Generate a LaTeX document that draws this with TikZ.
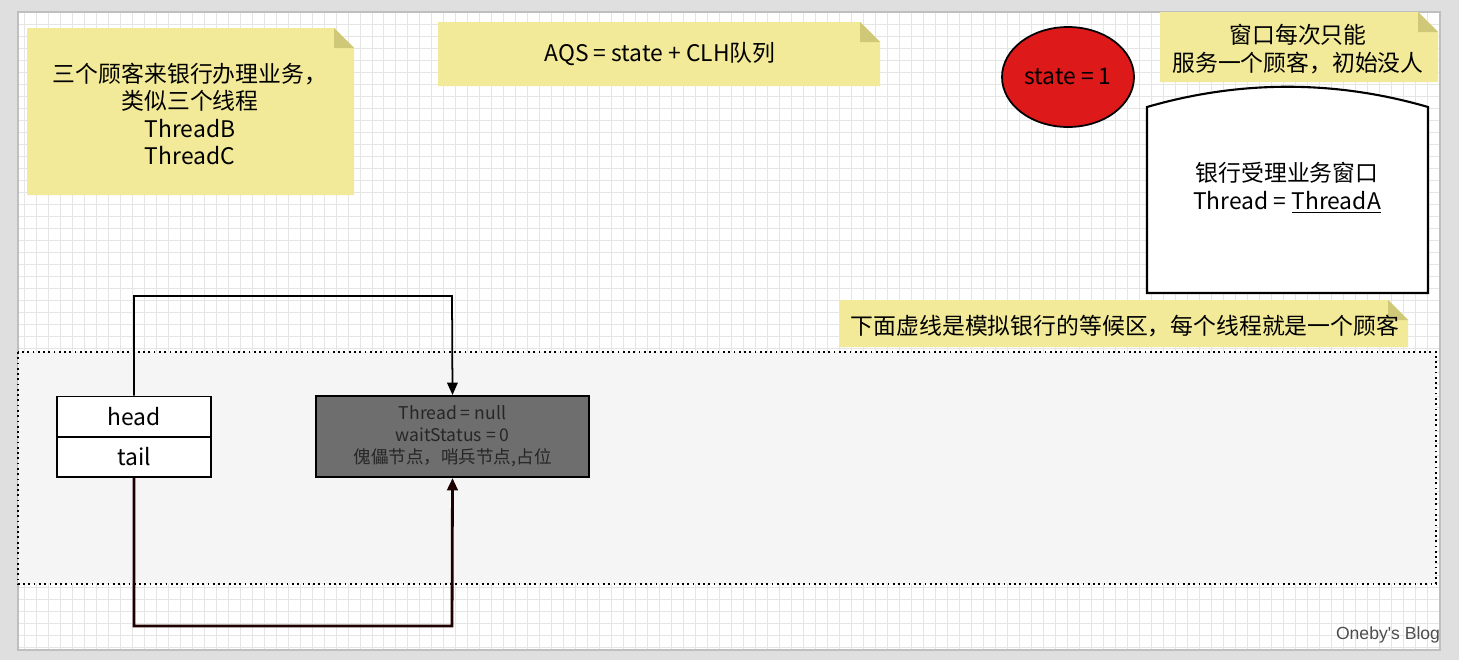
\documentclass[tikz,border=0pt]{standalone}
\usepackage{fontspec}
\setmainfont{Noto Sans CJK SC}
\newfontfamily\wmfont{Liberation Sans}
\usetikzlibrary{arrows.meta}
\definecolor{note}{HTML}{F2EA98}
\definecolor{fold}{HTML}{CFC878}
\begin{document}
\begin{tikzpicture}[x=0.02cm,y=-0.02cm,
  note/.style={fill=note,draw=none},
  txt/.style={font=\fontsize{13}{16}\selectfont,align=center,inner sep=0},
  box/.style={draw=black,line width=1pt,fill=white,minimum width=154*0.02cm,minimum height=40*0.02cm,inner sep=0,font=\fontsize{13}{14}\selectfont}]
\useasboundingbox (0,0) rectangle (1459,660);
\fill[gray!25] (0,0) rectangle (1459,660);
\fill[white] (18,12) rectangle (1440,650);
\begin{scope}
\clip (18,12) rectangle (1440,650);
\draw[gray!20,line width=0.5pt,step=0.24cm] (0,0) grid (1459,660);
\end{scope}
\draw[gray!50,line width=1pt] (18,12) rectangle (1440,650);
% notes
\foreach \a/\b/\c/\d in {27/28/354/195,438/22/880/86,1160/12/1438/82,840/300/1408/347}{
  \fill[note] (\a,\b) -- (\c-20,\b) -- (\c,\b+20) -- (\c,\d) -- (\a,\d) -- cycle;
  \fill[fold] (\c-20,\b) -- (\c,\b+20) -- (\c-20,\b+20) -- cycle;}
\node[txt,font=\fontsize{13}{16}\selectfont] (n1) at (190,114) {三个顾客来银行办理业务，\\[-0.5pt]类似三个线程\\[-0.5pt]ThreadB\\[-0.5pt]ThreadC};
\node[txt] (n2) at (660,54) {AQS = state + CLH队列};
\node[txt] (n3) at (1298,49) {窗口每次只能\\服务一个顾客，初始没人};
\node[txt] (n4) at (1125,326) {下面虚线是模拟银行的等候区，每个线程就是一个顾客};
% state
\draw[line width=1pt,fill=red!85!black!90] (1068,77) ellipse [x radius=66, y radius=50];
\node[txt] (st) at (1068,77) {state = 1};
% window
\draw[line width=1.2pt,fill=white] (1147,293) -- (1147,107) .. controls (1240,80) and (1335,80) .. (1428,107) -- (1428,293) -- cycle;
\node[txt] (win) at (1287,188) {银行受理业务窗口\\Thread = \underline{ThreadA}};
% waiting area
\draw[dotted,line width=1pt,fill=gray!8] (18,352) rectangle (1436,584);
\node[box] (head) at (134,416.5) {head};
\node[box] (tail) at (134,457) {tail};
\node[draw=black,line width=1.2pt,fill=black!57,minimum width=273*0.02cm,minimum height=81*0.02cm,inner sep=0,align=center,text=black!85,font=\fontsize{10}{12.5}\selectfont] (dummy) at (452.5,436.5) {Thread = null\\waitStatus = 0\\傀儡节点，哨兵节点,占位};
\draw[line width=1pt,-{Triangle[length=7pt,width=6pt]}] (head.north) -- (134,296) -- (452,296) -- (dummy.north);
\draw[line width=1.6pt,color=black!80!red!60!black,-{Triangle[length=7pt,width=6pt]}] (tail.south) -- (134,626) -- (452,626) -- (dummy.south);
\node[inner sep=0,text=gray!60!black,font=\wmfont\fontsize{10}{12}\selectfont] (wm) at (1388,635) {Oneby's Blog};
\end{tikzpicture}
\end{document}
